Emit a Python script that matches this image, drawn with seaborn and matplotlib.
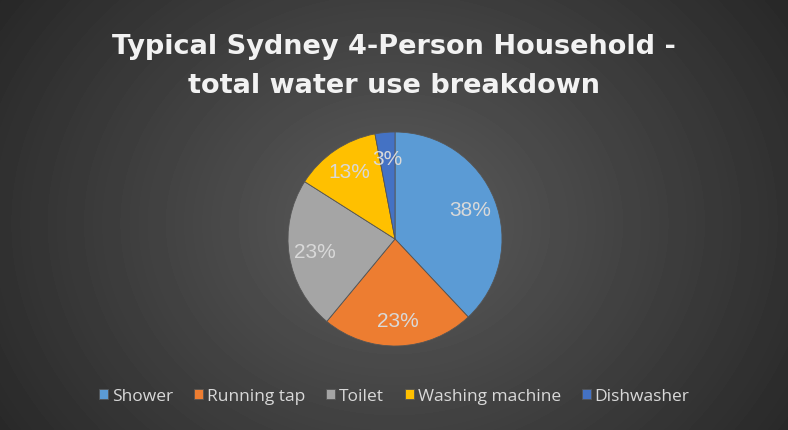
import numpy as np
import matplotlib
matplotlib.use("Agg")
import matplotlib.pyplot as plt
import seaborn as sns

categories = ["Shower", "Running tap", "Toilet", "Washing machine", "Dishwasher"]
shares = [38, 23, 23, 13, 3]
colors = ["#5B9BD5", "#ED7D31", "#A5A5A5", "#FFC000", "#4472C4"]
title = "Typical Sydney 4-Person Household -\ntotal water use breakdown"

sns.set_theme(style="white")
plt.rcParams["font.family"] = ["Open Sans", "DejaVu Sans"]

W, H = 788, 431
fig = plt.figure(figsize=(W / 100, H / 100), dpi=100)

# radial gradient background
bg = fig.add_axes([0, 0, 1, 1])
yy, xx = np.mgrid[0:H, 0:W]
r = np.sqrt(((xx - W / 2) / (W * 0.62)) ** 2 + ((yy - H * 0.52) / (H * 0.95)) ** 2)
r = np.clip(r, 0, 1)
shade = 0.36 - (0.36 - 0.15) * r
bg.imshow(shade, cmap="gray", vmin=0, vmax=1, aspect="auto", interpolation="bilinear")
bg.axis("off")

fig.text(0.5, 0.845, title, ha="center", va="center", fontsize=19.5,
         fontweight="bold", color="#F2F2F2", linespacing=1.65,
         family=["DejaVu Sans"])

cx, cy, rad = 395 / W, 1 - 240 / H, 107
ax = fig.add_axes([cx - rad / W, cy - rad / H, 2 * rad / W, 2 * rad / H])
wedges, texts, autotexts = ax.pie(
    shares, colors=sns.color_palette(colors), startangle=90, counterclock=False,
    autopct=lambda p: f"{p:.0f}%", pctdistance=0.76, radius=1,
    wedgeprops=dict(edgecolor="#555555", linewidth=0.6),
    textprops=dict(color="#D9D9D9", fontsize=15, family=["Liberation Sans", "DejaVu Sans"]))
ax.set_xlim(-1, 1)
ax.set_ylim(-1, 1)
ax.set_aspect("equal")
ax.axis("off")

fig.legend(wedges, categories, loc="center", bbox_to_anchor=(0.5, 0.078), ncol=5,
           frameon=False, fontsize=12.5, labelcolor="#D9D9D9",
           handlelength=0.55, handleheight=0.55, handletextpad=0.2, columnspacing=1.2)

fig.savefig("out.png", dpi=100)
